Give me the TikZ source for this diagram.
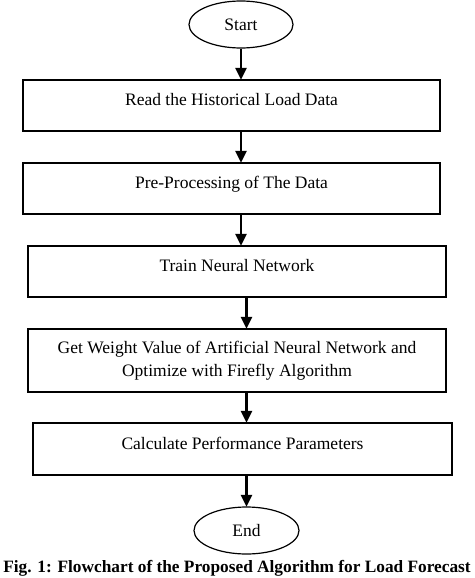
\documentclass[tikz,border=0pt]{standalone}
\usepackage{fontspec}
\setmainfont{Liberation Serif}
\usetikzlibrary{shapes.geometric,arrows.meta}
\tikzset{
  stepbox/.style={draw=black, line width=1.3pt, rectangle, inner sep=0pt, align=center},
  onebox/.style={stepbox, text height=12pt, text depth=12pt},
  term/.style={draw=black, line width=1.2pt, ellipse, inner sep=0pt, minimum width=104pt, minimum height=47pt, text height=12pt, text depth=0pt},
  arr/.style={line width=2.6pt, -{Triangle[length=12pt,width=11pt]}, shorten >=-0.5pt}
}
\begin{document}
\begin{tikzpicture}[x=1pt,y=-1pt, font=\fontsize{17.5}{23}\selectfont]
\useasboundingbox (0,0) rectangle (474,578);
\fill[white] (0,0) rectangle (474,578);
\node[term] (start) at (241,24.5) {Start};
\node[onebox, minimum width=417pt, minimum height=51pt] (b1) at (231.5,105.5) {Read the Historical Load Data};
\node[onebox, minimum width=417pt, minimum height=51pt] (b2) at (231.5,188.5) {Pre-Processing of The Data};
\node[onebox, minimum width=418pt, minimum height=51pt] (b3) at (237,271.5) {Train Neural Network};
\node[stepbox, minimum width=418pt, minimum height=63pt] (b4) at (237,360.5) {Get Weight Value of Artificial Neural Network and\\Optimize with Firefly Algorithm};
\node[onebox, minimum width=419pt, minimum height=52pt] (b5) at (242.5,449) {Calculate Performance Parameters};
\node[term, minimum width=105pt] (end) at (246.5,530.5) {End};
\node[anchor=base, inner sep=0pt, font=\fontsize{17.3}{20}\selectfont\bfseries] (cap) at (237,572.5) {Fig. 1: Flowchart of the Proposed Algorithm for Load Forecast};
\draw[arr] (start.south) -- (start.south |- b1.north);
\draw[arr] (b1.south -| start.south) -- (b2.north -| start.south);
\draw[arr] (b2.south -| start.south) -- (b3.north -| start.south);
\draw[arr] (b3.south -| end.north) -- (b4.north -| end.north);
\draw[arr] (b4.south -| end.north) -- (b5.north -| end.north);
\draw[arr] (b5.south -| end.north) -- (end.north);
\end{tikzpicture}
\end{document}
